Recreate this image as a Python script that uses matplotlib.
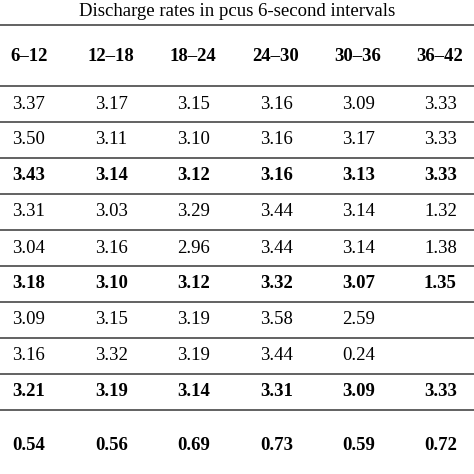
import matplotlib
matplotlib.use("Agg")
import matplotlib.pyplot as plt

title = "Discharge rates in pcus 6-second intervals"
headers = ["6–12", "12–18", "18–24", "24–30", "30–36", "36–42"]
rows = [
    ["3.37", "3.17", "3.15", "3.16", "3.09", "3.33"],
    ["3.50", "3.11", "3.10", "3.16", "3.17", "3.33"],
    ["3.43", "3.14", "3.12", "3.16", "3.13", "3.33"],
    ["3.31", "3.03", "3.29", "3.44", "3.14", "1.32"],
    ["3.04", "3.16", "2.96", "3.44", "3.14", "1.38"],
    ["3.18", "3.10", "3.12", "3.32", "3.07", "1.35"],
    ["3.09", "3.15", "3.19", "3.58", "2.59", ""],
    ["3.16", "3.32", "3.19", "3.44", "0.24", ""],
    ["3.21", "3.19", "3.14", "3.31", "3.09", "3.33"],
]
last_row = ["0.54", "0.56", "0.69", "0.73", "0.59", "0.72"]
bold_rows = [2, 5, 8]

plt.rcParams['font.family'] = ['Liberation Serif', 'DejaVu Serif']
fig = plt.figure(figsize=(4.74, 4.74), dpi=100)
ax = fig.add_axes([0, 0, 1, 1])
ax.set_xlim(0, 474)
ax.set_ylim(474, 0)
ax.axis('off')

fs = 13.5
col_x = [12, 95, 177, 260, 342, 424]
hdr_x = [10, 88, 170, 252, 334, 416]
lc = '#555555'

ax.text(237, 11, title, ha='center', va='center', fontsize=fs)
ax.plot([0, 474], [25, 25], color=lc, lw=1.3)
for x, h in zip(hdr_x, headers):
    ax.text(x, 56, h, ha='left', va='center', fontsize=fs, fontweight='bold')
ax.plot([0, 474], [86, 86], color=lc, lw=1.3)
for i, r in enumerate(rows):
    y = 104 + 36 * i
    w = 'bold' if i in bold_rows else 'normal'
    for x, v in zip(col_x, r):
        ax.text(x, y, v, ha='left', va='center', fontsize=fs, fontweight=w)
    ax.plot([0, 474], [y + 18, y + 18], color=lc, lw=1.3)
for x, v in zip(col_x, last_row):
    ax.text(x, 445, v, ha='left', va='center', fontsize=fs, fontweight='bold')

fig.savefig("out.png", dpi=100, facecolor='white')
